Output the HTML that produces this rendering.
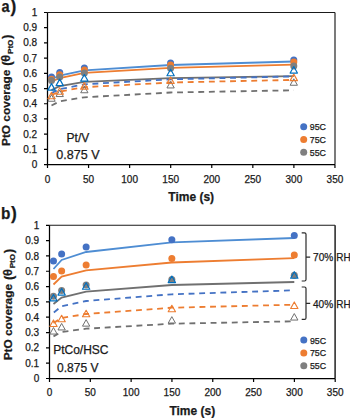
<!DOCTYPE html><html><head><meta charset="utf-8"><style>
html,body{margin:0;padding:0;background:#fff;width:350px;height:418px;overflow:hidden}
svg{display:block} text{font-family:"Liberation Sans", sans-serif;fill:#1a1a1a;stroke:#1a1a1a;stroke-width:0.25px}
</style></head><body>
<svg width="350" height="418" viewBox="0 0 350 418">
<rect width="350" height="418" fill="#fff"/>
<path d="M47.5,12.5H335" fill="none" stroke="#1a1a1a" stroke-width="1.1"/>
<path d="M335,12.5V164.6" fill="none" stroke="#222" stroke-width="1.2"/>
<path d="M47.5,12.5V164.6H335" fill="none" stroke="#000" stroke-width="1.25"/>
<path d="M44,12.5H47.5M44,27.71H47.5M44,42.92H47.5M44,58.13H47.5M44,73.34H47.5M44,88.55H47.5M44,103.76H47.5M44,118.97H47.5M44,134.18H47.5M44,149.39H47.5M44,164.6H47.5M47.5,164.6V168.1M88.56,164.6V168.1M129.63,164.6V168.1M170.69,164.6V168.1M211.76,164.6V168.1M252.83,164.6V168.1M293.89,164.6V168.1M334.95,164.6V168.1" stroke="#000" stroke-width="1.2" fill="none"/>
<text x="37.2" y="16" text-anchor="end" font-size="10">1</text>
<text x="37.2" y="31.21" text-anchor="end" font-size="10">0.9</text>
<text x="37.2" y="46.42" text-anchor="end" font-size="10">0.8</text>
<text x="37.2" y="61.63" text-anchor="end" font-size="10">0.7</text>
<text x="37.2" y="76.84" text-anchor="end" font-size="10">0.6</text>
<text x="37.2" y="92.05" text-anchor="end" font-size="10">0.5</text>
<text x="37.2" y="107.26" text-anchor="end" font-size="10">0.4</text>
<text x="37.2" y="122.47" text-anchor="end" font-size="10">0.3</text>
<text x="37.2" y="137.68" text-anchor="end" font-size="10">0.2</text>
<text x="37.2" y="152.89" text-anchor="end" font-size="10">0.1</text>
<text x="37.2" y="168.1" text-anchor="end" font-size="10">0</text>
<text x="47.5" y="182.6" text-anchor="middle" font-size="10">0</text>
<text x="88.56" y="182.6" text-anchor="middle" font-size="10">50</text>
<text x="129.63" y="182.6" text-anchor="middle" font-size="10">100</text>
<text x="170.69" y="182.6" text-anchor="middle" font-size="10">150</text>
<text x="211.76" y="182.6" text-anchor="middle" font-size="10">200</text>
<text x="252.83" y="182.6" text-anchor="middle" font-size="10">250</text>
<text x="293.89" y="182.6" text-anchor="middle" font-size="10">300</text>
<text x="334.95" y="182.6" text-anchor="middle" font-size="10">350</text>
<polyline points="51.51,79 59.72,75.7 84.36,70.3 170.59,65 293.79,61.5" fill="none" stroke="#4E8DD3" stroke-width="1.8"/>
<polyline points="51.51,81.5 59.72,78.2 84.36,72.8 170.59,67.9 293.79,64.6" fill="none" stroke="#ED7D31" stroke-width="1.8"/>
<polyline points="51.51,90 59.72,86.2 84.36,81.8 170.59,78.1 293.79,76.1" fill="none" stroke="#707070" stroke-width="1.8"/>
<polyline points="51.51,93 59.72,89.2 84.36,84.3 170.59,79.3 293.79,76.4" fill="none" stroke="#4472C4" stroke-width="1.8" stroke-dasharray="5.9 4.7" stroke-dashoffset="0.14"/>
<polyline points="51.51,95 59.72,91.5 84.36,87.2 170.59,82.5 293.79,79.9" fill="none" stroke="#ED7D31" stroke-width="1.8" stroke-dasharray="5.9 4.7" stroke-dashoffset="0.39"/>
<polyline points="51.51,105.5 59.72,101.3 84.36,97.3 170.59,92.5 293.79,90.3" fill="none" stroke="#707070" stroke-width="1.8" stroke-dasharray="5.9 4.7" stroke-dashoffset="0.14"/>
<circle cx="51.51" cy="77.1" r="3.5" fill="#4472C4"/>
<circle cx="59.72" cy="72.6" r="3.5" fill="#4472C4"/>
<circle cx="84.36" cy="68" r="3.5" fill="#4472C4"/>
<circle cx="170.59" cy="63" r="3.5" fill="#4472C4"/>
<circle cx="293.79" cy="60" r="3.5" fill="#4472C4"/>
<circle cx="51.51" cy="79.2" r="3.5" fill="#ED7D31"/>
<circle cx="59.72" cy="74.7" r="3.5" fill="#ED7D31"/>
<circle cx="84.36" cy="70" r="3.5" fill="#ED7D31"/>
<circle cx="170.59" cy="65" r="3.5" fill="#ED7D31"/>
<circle cx="293.79" cy="62" r="3.5" fill="#ED7D31"/>
<circle cx="51.51" cy="80.6" r="3.5" fill="#7F7F7F"/>
<circle cx="59.72" cy="76.9" r="3.5" fill="#7F7F7F"/>
<circle cx="84.36" cy="73" r="3.5" fill="#7F7F7F"/>
<circle cx="170.59" cy="68.3" r="3.5" fill="#7F7F7F"/>
<circle cx="293.79" cy="66" r="3.5" fill="#7F7F7F"/>
<path d="M51.51,94.75L55.16,101.25H47.86Z" fill="none" stroke="#707070" stroke-width="1.0" stroke-linejoin="round"/>
<path d="M59.72,90.05L63.37,96.55H56.07Z" fill="none" stroke="#707070" stroke-width="1.0" stroke-linejoin="round"/>
<path d="M84.36,86.25L88.01,92.75H80.71Z" fill="none" stroke="#707070" stroke-width="1.0" stroke-linejoin="round"/>
<path d="M170.59,81.45L174.25,87.95H166.94Z" fill="none" stroke="#707070" stroke-width="1.0" stroke-linejoin="round"/>
<path d="M293.79,78.75L297.44,85.25H290.14Z" fill="none" stroke="#707070" stroke-width="1.0" stroke-linejoin="round"/>
<path d="M51.51,92.25L55.16,98.75H47.86Z" fill="none" stroke="#ED7D31" stroke-width="1.15" stroke-linejoin="round"/>
<path d="M59.72,87.75L63.37,94.25H56.07Z" fill="none" stroke="#ED7D31" stroke-width="1.15" stroke-linejoin="round"/>
<path d="M84.36,82.65L88.01,89.15H80.71Z" fill="none" stroke="#ED7D31" stroke-width="1.15" stroke-linejoin="round"/>
<path d="M170.59,76.95L174.25,83.45H166.94Z" fill="none" stroke="#ED7D31" stroke-width="1.15" stroke-linejoin="round"/>
<path d="M293.79,74.15L297.44,80.65H290.14Z" fill="none" stroke="#ED7D31" stroke-width="1.15" stroke-linejoin="round"/>
<path d="M51.51,83.65L55.16,90.15H47.86Z" fill="none" stroke="#0070C0" stroke-width="1.2" stroke-linejoin="round"/>
<path d="M59.72,79.15L63.37,85.65H56.07Z" fill="none" stroke="#0070C0" stroke-width="1.2" stroke-linejoin="round"/>
<path d="M84.36,74.55L88.01,81.05H80.71Z" fill="none" stroke="#0070C0" stroke-width="1.2" stroke-linejoin="round"/>
<path d="M170.59,69.25L174.25,75.75H166.94Z" fill="none" stroke="#0070C0" stroke-width="1.2" stroke-linejoin="round"/>
<path d="M293.79,66.55L297.44,73.05H290.14Z" fill="none" stroke="#0070C0" stroke-width="1.2" stroke-linejoin="round"/>
<path d="M49.5,225.3H335.1" fill="none" stroke="#1a1a1a" stroke-width="1.1"/>
<path d="M335.1,225.3V378.5" fill="none" stroke="#222" stroke-width="1.5"/>
<path d="M49.5,225.3V378.5H335.1" fill="none" stroke="#000" stroke-width="1.25"/>
<path d="M46,225.3H49.5M46,240.62H49.5M46,255.94H49.5M46,271.26H49.5M46,286.58H49.5M46,301.9H49.5M46,317.22H49.5M46,332.54H49.5M46,347.86H49.5M46,363.18H49.5M46,378.5H49.5M49.5,378.5V382M90.31,378.5V382M131.13,378.5V382M171.94,378.5V382M212.76,378.5V382M253.58,378.5V382M294.39,378.5V382M335.2,378.5V382" stroke="#000" stroke-width="1.2" fill="none"/>
<text x="39.2" y="228.9" text-anchor="end" font-size="10">1</text>
<text x="39.2" y="244.22" text-anchor="end" font-size="10">0.9</text>
<text x="39.2" y="259.54" text-anchor="end" font-size="10">0.8</text>
<text x="39.2" y="274.86" text-anchor="end" font-size="10">0.7</text>
<text x="39.2" y="290.18" text-anchor="end" font-size="10">0.6</text>
<text x="39.2" y="305.5" text-anchor="end" font-size="10">0.5</text>
<text x="39.2" y="320.82" text-anchor="end" font-size="10">0.4</text>
<text x="39.2" y="336.14" text-anchor="end" font-size="10">0.3</text>
<text x="39.2" y="351.46" text-anchor="end" font-size="10">0.2</text>
<text x="39.2" y="366.78" text-anchor="end" font-size="10">0.1</text>
<text x="39.2" y="382.1" text-anchor="end" font-size="10">0</text>
<text x="49.5" y="396.3" text-anchor="middle" font-size="10">0</text>
<text x="90.31" y="396.3" text-anchor="middle" font-size="10">50</text>
<text x="131.13" y="396.3" text-anchor="middle" font-size="10">100</text>
<text x="171.94" y="396.3" text-anchor="middle" font-size="10">150</text>
<text x="212.76" y="396.3" text-anchor="middle" font-size="10">200</text>
<text x="253.58" y="396.3" text-anchor="middle" font-size="10">250</text>
<text x="294.39" y="396.3" text-anchor="middle" font-size="10">300</text>
<text x="335.2" y="396.3" text-anchor="middle" font-size="10">350</text>
<polyline points="53.48,269 61.64,260 86.13,252 171.84,242.4 294.29,238" fill="none" stroke="#4E8DD3" stroke-width="1.8"/>
<polyline points="53.48,284.5 61.64,276.6 86.13,270.3 171.84,262.5 294.29,258.2" fill="none" stroke="#ED7D31" stroke-width="1.8"/>
<polyline points="53.48,304 61.64,297.5 86.13,291.7 171.84,285 294.29,282" fill="none" stroke="#707070" stroke-width="1.8"/>
<polyline points="53.48,312.8 61.64,306.2 86.13,301 171.84,294.3 294.29,290.3" fill="none" stroke="#4472C4" stroke-width="1.8" stroke-dasharray="5.9 4.7" stroke-dashoffset="10.13"/>
<polyline points="53.48,323 61.64,318 86.13,314 171.84,307.7 294.29,304.7" fill="none" stroke="#ED7D31" stroke-width="1.8" stroke-dasharray="5.9 4.7" stroke-dashoffset="0.41"/>
<polyline points="53.48,336.4 61.64,332 86.13,328.7 171.84,323.7 294.29,321.3" fill="none" stroke="#707070" stroke-width="1.8" stroke-dasharray="5.9 4.7" stroke-dashoffset="0.4"/>
<circle cx="53.48" cy="260.9" r="3.5" fill="#4472C4"/>
<circle cx="61.64" cy="254" r="3.5" fill="#4472C4"/>
<circle cx="86.13" cy="247.1" r="3.5" fill="#4472C4"/>
<circle cx="171.84" cy="239.8" r="3.5" fill="#4472C4"/>
<circle cx="294.29" cy="235.4" r="3.5" fill="#4472C4"/>
<circle cx="53.48" cy="276.6" r="3.5" fill="#ED7D31"/>
<circle cx="61.64" cy="271.1" r="3.5" fill="#ED7D31"/>
<circle cx="86.13" cy="265.1" r="3.5" fill="#ED7D31"/>
<circle cx="171.84" cy="258.4" r="3.5" fill="#ED7D31"/>
<circle cx="294.29" cy="255" r="3.5" fill="#ED7D31"/>
<circle cx="53.48" cy="296.3" r="3.5" fill="#7F7F7F"/>
<circle cx="61.64" cy="290.6" r="3.5" fill="#7F7F7F"/>
<circle cx="86.13" cy="285.1" r="3.5" fill="#7F7F7F"/>
<circle cx="171.84" cy="279.4" r="3.5" fill="#7F7F7F"/>
<circle cx="294.29" cy="275.2" r="3.5" fill="#7F7F7F"/>
<path d="M53.48,327.55L57.13,334.05H49.83Z" fill="none" stroke="#707070" stroke-width="1.0" stroke-linejoin="round"/>
<path d="M61.64,323.45L65.29,329.95H57.99Z" fill="none" stroke="#707070" stroke-width="1.0" stroke-linejoin="round"/>
<path d="M86.13,319.65L89.78,326.15H82.48Z" fill="none" stroke="#707070" stroke-width="1.0" stroke-linejoin="round"/>
<path d="M171.84,316.65L175.5,323.15H168.19Z" fill="none" stroke="#707070" stroke-width="1.0" stroke-linejoin="round"/>
<path d="M294.29,313.55L297.94,320.05H290.64Z" fill="none" stroke="#707070" stroke-width="1.0" stroke-linejoin="round"/>
<path d="M53.48,319.95L57.13,326.45H49.83Z" fill="none" stroke="#ED7D31" stroke-width="1.15" stroke-linejoin="round"/>
<path d="M61.64,315.25L65.29,321.75H57.99Z" fill="none" stroke="#ED7D31" stroke-width="1.15" stroke-linejoin="round"/>
<path d="M86.13,310.25L89.78,316.75H82.48Z" fill="none" stroke="#ED7D31" stroke-width="1.15" stroke-linejoin="round"/>
<path d="M171.84,305.25L175.5,311.75H168.19Z" fill="none" stroke="#ED7D31" stroke-width="1.15" stroke-linejoin="round"/>
<path d="M294.29,301.95L297.94,308.45H290.64Z" fill="none" stroke="#ED7D31" stroke-width="1.15" stroke-linejoin="round"/>
<path d="M53.48,294.45L57.13,300.95H49.83Z" fill="none" stroke="#0070C0" stroke-width="1.2" stroke-linejoin="round"/>
<path d="M61.64,288.55L65.29,295.05H57.99Z" fill="none" stroke="#0070C0" stroke-width="1.2" stroke-linejoin="round"/>
<path d="M86.13,282.75L89.78,289.25H82.48Z" fill="none" stroke="#0070C0" stroke-width="1.2" stroke-linejoin="round"/>
<path d="M171.84,276.05L175.5,282.55H168.19Z" fill="none" stroke="#0070C0" stroke-width="1.2" stroke-linejoin="round"/>
<path d="M294.29,271.75L297.94,278.25H290.64Z" fill="none" stroke="#0070C0" stroke-width="1.2" stroke-linejoin="round"/>
<text x="1.5" y="12.1" font-size="17" font-weight="bold" textLength="8.1" lengthAdjust="spacingAndGlyphs">a</text>
<text x="10.5" y="12.4" font-size="17.5" font-weight="bold">)</text>
<text x="0.9" y="219" font-size="16.5" font-weight="bold" textLength="9.4" lengthAdjust="spacingAndGlyphs">b</text>
<text x="10.9" y="219.3" font-size="17.5" font-weight="bold">)</text>
<text x="191.2" y="201.2" text-anchor="middle" font-size="12" font-weight="bold">Time (s)</text>
<text x="192.3" y="415.4" text-anchor="middle" font-size="12" font-weight="bold">Time (s)</text>
<g transform="translate(10.2,0) rotate(-90)" font-weight="bold"><text x="-146" y="0" font-size="11.7" textLength="76.3" lengthAdjust="spacingAndGlyphs">PtO coverage</text><text x="-65.8" y="0.6" font-size="13.5">(</text><text x="-61.8" y="0" font-size="12.8">θ</text><text x="-54" y="2.7" font-size="7.8" textLength="14.4" lengthAdjust="spacingAndGlyphs">PtO</text><text x="-39" y="0.6" font-size="13.5">)</text></g>
<g transform="translate(11.9,214.3) rotate(-90)" font-weight="bold"><text x="-146" y="0" font-size="11.7" textLength="76.3" lengthAdjust="spacingAndGlyphs">PtO coverage</text><text x="-65.8" y="0.6" font-size="13.5">(</text><text x="-61.8" y="0" font-size="12.8">θ</text><text x="-54" y="2.7" font-size="7.8" textLength="14.4" lengthAdjust="spacingAndGlyphs">PtO</text><text x="-39" y="0.6" font-size="13.5">)</text></g>
<circle cx="303.7" cy="126.8" r="3.5" fill="#4472C4"/>
<text x="309.8" y="130.3" font-size="9.9" textLength="16.2" lengthAdjust="spacingAndGlyphs">95C</text>
<circle cx="303.7" cy="139.5" r="3.5" fill="#ED7D31"/>
<text x="309.8" y="143" font-size="9.9" textLength="16.2" lengthAdjust="spacingAndGlyphs">75C</text>
<circle cx="303.7" cy="152.2" r="3.5" fill="#7F7F7F"/>
<text x="309.8" y="155.7" font-size="9.9" textLength="16.2" lengthAdjust="spacingAndGlyphs">55C</text>
<circle cx="303.8" cy="340.1" r="3.5" fill="#4472C4"/>
<text x="309.9" y="343.6" font-size="9.9" textLength="16.2" lengthAdjust="spacingAndGlyphs">95C</text>
<circle cx="303.8" cy="352.9" r="3.5" fill="#ED7D31"/>
<text x="309.9" y="356.4" font-size="9.9" textLength="16.2" lengthAdjust="spacingAndGlyphs">75C</text>
<circle cx="303.8" cy="365.7" r="3.5" fill="#7F7F7F"/>
<text x="309.9" y="369.2" font-size="9.9" textLength="16.2" lengthAdjust="spacingAndGlyphs">55C</text>
<text x="66.6" y="141.9" font-size="12">Pt/V</text>
<text x="56.3" y="158.7" font-size="12.2" textLength="43.2" lengthAdjust="spacingAndGlyphs">0.875 V</text>
<text x="53.2" y="353.7" font-size="12">PtCo/HSC</text>
<text x="57.1" y="372" font-size="12">0.875 V</text>
<path d="M301.7,232.8H304.5Q306,232.8 306,234.3V279.5Q306,281 304.5,281H301.7M306,257.1H310.2" fill="none" stroke="#2a2a2a" stroke-width="1.2"/>
<path d="M301.7,287H304.5Q306,287 306,288.5V317.9Q306,319.4 304.5,319.4H301.7M306,303.3H310.2" fill="none" stroke="#2a2a2a" stroke-width="1.2"/>
<text x="313.1" y="261.2" font-size="10.8" textLength="20.2" lengthAdjust="spacingAndGlyphs">70%</text>
<text x="313.0" y="307.6" font-size="10.8" textLength="20.2" lengthAdjust="spacingAndGlyphs">40%</text>
<text x="336.3" y="261.2" font-size="10.8" textLength="14.4" lengthAdjust="spacingAndGlyphs">RH</text>
<text x="336.3" y="307.6" font-size="10.8" textLength="14.4" lengthAdjust="spacingAndGlyphs">RH</text>
</svg></body></html>
